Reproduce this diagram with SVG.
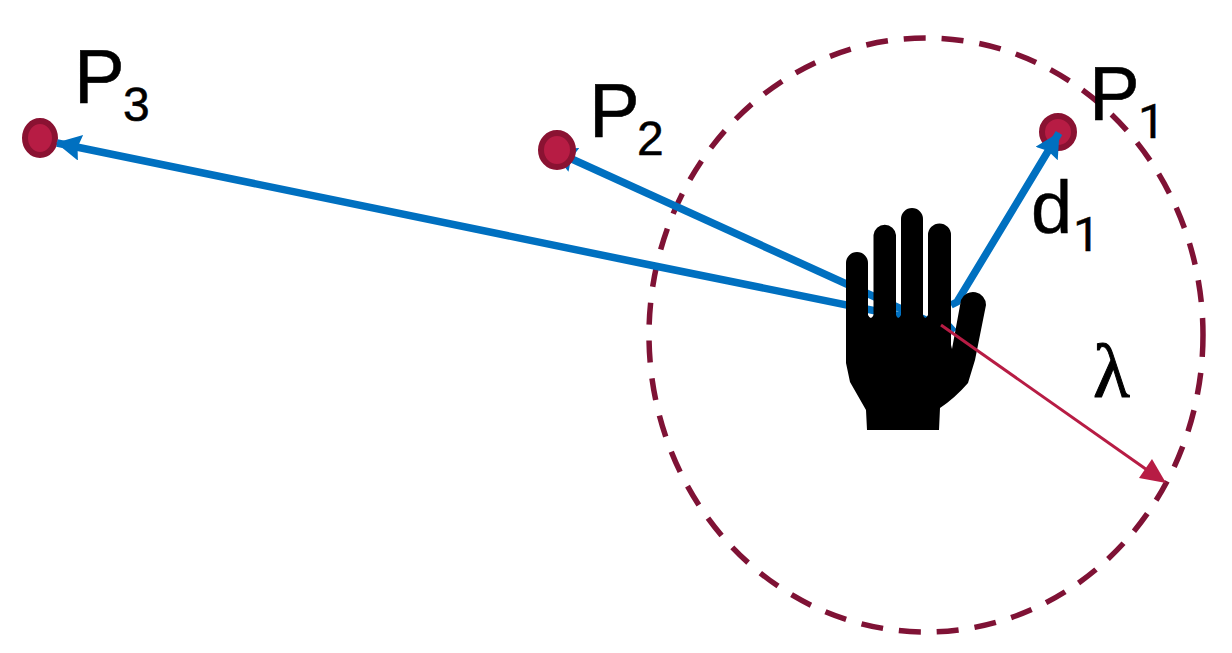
<svg xmlns="http://www.w3.org/2000/svg" width="1232" height="653" viewBox="0 0 1232 653">
<style>
.t{font-family:"Liberation Sans",Arial,sans-serif;fill:#000;stroke:#000;stroke-width:.5}
.r{font-family:Roboto,"Liberation Sans",sans-serif}
.m{font-size:76px}
.s{font-size:48px}
.dot{fill:#b71c44;stroke:#8a1232;stroke-width:6}
.blue{fill:none;stroke:#0070c0;stroke-width:7.500}
</style>
<defs>
<marker id="ab" markerUnits="userSpaceOnUse" markerWidth="30" markerHeight="30" refX="24" refY="13" orient="auto"><path d="M0 0L25 13L0 26L3 13Z" fill="#0070c0"/></marker>
</defs>
<rect width="1232" height="653" fill="#fff"/>
<g id="range-circle"><ellipse cx="926" cy="335" rx="277" ry="297" fill="none" stroke="#7f1235" stroke-width="5.500" stroke-dasharray="22 16"/></g>
<g id="p3"><ellipse class="dot" cx="40" cy="138" rx="15" ry="17"/><text class="t m" x="74" y="103">P</text><text class="t s" x="123" y="121">3</text></g>
<g id="p1"><circle class="dot" cx="1058" cy="132" r="16"/><text class="t m" x="1089" y="120">P</text><text class="t s r" x="1138" y="138">1</text></g>
<g id="connectors">
<path class="blue" d="M930 322L552 150" marker-end="url(#ab)"/>
<path class="blue" d="M930 322Q900 316 655 266L57 143" marker-end="url(#ab)"/>
<path class="blue" d="M945 322L954 332M951 305L957 302L1059 133" marker-end="url(#ab)"/>
</g>
<g id="p2"><ellipse class="dot" cx="557" cy="150" rx="16" ry="17"/><text class="t m" x="589" y="137">P</text><text class="t s" x="637" y="155">2</text></g>
<g id="hand"><path fill="#000" d="M846 363V263A11 11 0 0 1 868 263V315Q871 321 873.500 315V235A11.300 11.300 0 0 1 896 235V315Q898 321 901 315V219A11 11 0 0 1 923 219V315Q925 321 928 315V235A11.500 11.500 0 0 1 951 235V345L952 349L961 300A13 13 0 0 1 986 305L975 360L968 383Q955 398 940 408L939 430H867L866 410L850 382Z"/></g>
<g id="lambda-arrow"><path fill="none" stroke="#b71c44" stroke-width="3" d="M941 325L1150 472"/><path fill="#b71c44" d="M1166 483L1152 459L1139 478Z"/></g>
<g id="d1"><text class="t" font-size="74" x="1031" y="233">d</text><text class="t s r" x="1073" y="251">1</text></g>
<g id="lambda"><text x="1093" y="397" font-size="76" stroke="#000" stroke-width="1" font-family="'Liberation Serif','DejaVu Serif',serif">λ</text></g>
</svg>
